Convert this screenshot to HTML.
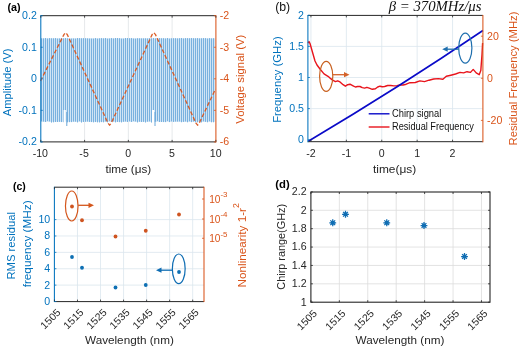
<!DOCTYPE html>
<html><head><meta charset="utf-8"><title>Figure</title>
<style>
html,body{margin:0;padding:0;background:#fff;}
body{width:520px;height:348px;overflow:hidden;}
svg{display:block;}
.s{font-family:"Liberation Sans",sans-serif;}
.sf{font-family:"Liberation Serif",serif;}
</style></head><body>
<svg width="520" height="348" viewBox="0 0 520 348">
<rect width="520" height="348" fill="#fff"/>
<line x1="84.58" y1="15.70" x2="84.58" y2="141.90" stroke="#dfe3e6" stroke-width="0.8"/>
<line x1="128.35" y1="15.70" x2="128.35" y2="141.90" stroke="#dfe3e6" stroke-width="0.8"/>
<line x1="172.12" y1="15.70" x2="172.12" y2="141.90" stroke="#dfe3e6" stroke-width="0.8"/>
<rect x="41.30" y="38.30" width="174.10" height="83.50" fill="#cfe4f5"/>
<path d="M41.50 38.33V121.38M43.50 38.36V121.59M45.50 38.04V122.00M47.50 38.50V121.02M49.50 38.14V121.41M51.50 38.28V122.59M53.50 38.29V122.34M55.50 38.09V122.02M57.50 38.52V122.02M59.50 38.44V121.84M61.50 38.04V122.07M63.50 38.35V122.21M65.50 38.02V121.48M67.50 38.28V122.38M69.50 38.53V122.15M71.50 38.55V122.14M73.50 38.48V121.63M75.50 38.56V121.71M77.50 38.06V122.41M79.50 38.13V121.22M81.50 38.26V122.54M83.50 38.18V122.00M85.50 38.23V121.81M87.50 38.35V121.56M89.50 38.54V121.93M91.50 38.56V122.09M93.50 38.59V122.37M95.50 38.10V122.07M97.50 38.58V122.38M99.50 38.34V122.45M101.50 38.13V122.14M103.50 38.34V122.33M105.50 38.04V121.46M107.50 38.59V122.37M109.50 38.48V121.14M111.50 38.09V121.66M113.50 38.46V121.47M115.50 38.03V122.40M117.50 38.03V121.98M119.50 38.20V122.15M121.50 38.59V122.41M123.50 38.60V121.81M125.50 38.05V121.50M127.50 38.02V121.96M129.50 38.24V121.32M131.50 38.09V121.98M133.50 38.52V121.07M135.50 38.58V121.50M137.50 38.23V122.43M139.50 38.31V121.74M141.50 38.36V122.03M143.50 38.37V121.89M145.50 38.30V122.50M147.50 38.43V121.69M149.50 38.18V121.38M151.50 38.31V122.56M153.50 38.01V121.88M155.50 38.35V121.66M157.50 38.37V121.03M159.50 38.04V122.01M161.50 38.28V122.00M163.50 38.21V122.09M165.50 38.44V122.13M167.50 38.04V121.04M169.50 38.58V122.08M171.50 38.27V121.40M173.50 38.19V121.95M175.50 38.19V121.58M177.50 38.36V121.59M179.50 38.23V121.48M181.50 38.02V122.24M183.50 38.44V121.91M185.50 38.13V121.50M187.50 38.14V122.29M189.50 38.26V121.30M191.50 38.06V122.12M193.50 38.20V121.52M195.50 38.26V122.33M197.50 38.10V122.37M199.50 38.39V121.54M201.50 38.27V122.42M203.50 38.07V121.36M205.50 38.11V121.85M207.50 38.50V122.29M209.50 38.17V121.29M211.50 38.39V122.29M213.50 38.21V122.29" stroke="#78b1df" stroke-width="1.0" fill="none"/>
<rect x="63.60" y="110" width="2.2" height="14" fill="#fff"/>
<line x1="66.80" y1="112.00" x2="66.80" y2="126.00" stroke="#69a6d8" stroke-width="1.0"/>
<rect x="152.00" y="110" width="2.2" height="14" fill="#fff"/>
<line x1="155.00" y1="112.00" x2="155.00" y2="126.00" stroke="#69a6d8" stroke-width="1.0"/>
<polyline points="40.5,81.0 63.9,34.6 65.6,32.6 67.3,34.6 108.0,123.2 109.6,125.2 111.2,123.2 152.1,34.6 153.8,32.6 155.5,34.6 196.0,123.2 197.6,125.2 199.2,123.2 215.5,89.0" fill="none" stroke="#D95319" stroke-width="1.35" stroke-dasharray="4.0 2.2" stroke-linejoin="round" opacity="0.92"/>
<line x1="40.80" y1="15.70" x2="215.90" y2="15.70" stroke="#262626" stroke-width="1"/>
<line x1="40.80" y1="141.90" x2="215.90" y2="141.90" stroke="#262626" stroke-width="1"/>
<line x1="40.80" y1="15.20" x2="40.80" y2="142.40" stroke="#0072BD" stroke-width="1.05"/>
<line x1="215.90" y1="15.20" x2="215.90" y2="142.40" stroke="#D95319" stroke-width="1.05"/>
<line x1="40.80" y1="141.90" x2="40.80" y2="139.90" stroke="#262626" stroke-width="0.8"/>
<line x1="40.80" y1="15.70" x2="40.80" y2="17.70" stroke="#262626" stroke-width="0.8"/>
<text class="s" x="0.00" y="0.00" font-size="10.2" text-anchor="middle" fill="#262626" transform="translate(40.30 156.60) scale(1.04 1)">-10</text>
<line x1="84.58" y1="141.90" x2="84.58" y2="139.90" stroke="#262626" stroke-width="0.8"/>
<line x1="84.58" y1="15.70" x2="84.58" y2="17.70" stroke="#262626" stroke-width="0.8"/>
<text class="s" x="0.00" y="0.00" font-size="10.2" text-anchor="middle" fill="#262626" transform="translate(84.08 156.60) scale(1.04 1)">-5</text>
<line x1="128.35" y1="141.90" x2="128.35" y2="139.90" stroke="#262626" stroke-width="0.8"/>
<line x1="128.35" y1="15.70" x2="128.35" y2="17.70" stroke="#262626" stroke-width="0.8"/>
<text class="s" x="0.00" y="0.00" font-size="10.2" text-anchor="middle" fill="#262626" transform="translate(128.15 156.60) scale(1.04 1)">0</text>
<line x1="172.12" y1="141.90" x2="172.12" y2="139.90" stroke="#262626" stroke-width="0.8"/>
<line x1="172.12" y1="15.70" x2="172.12" y2="17.70" stroke="#262626" stroke-width="0.8"/>
<text class="s" x="0.00" y="0.00" font-size="10.2" text-anchor="middle" fill="#262626" transform="translate(171.93 156.60) scale(1.04 1)">5</text>
<line x1="215.90" y1="141.90" x2="215.90" y2="139.90" stroke="#262626" stroke-width="0.8"/>
<line x1="215.90" y1="15.70" x2="215.90" y2="17.70" stroke="#262626" stroke-width="0.8"/>
<text class="s" x="0.00" y="0.00" font-size="10.2" text-anchor="middle" fill="#262626" transform="translate(215.70 156.60) scale(1.04 1)">10</text>
<line x1="40.80" y1="15.70" x2="42.80" y2="15.70" stroke="#0072BD" stroke-width="0.8"/>
<text class="s" x="0.00" y="0.00" font-size="10.2" text-anchor="end" fill="#0072BD" transform="translate(36.80 19.20) scale(1.04 1)">0.2</text>
<line x1="40.80" y1="47.25" x2="42.80" y2="47.25" stroke="#0072BD" stroke-width="0.8"/>
<text class="s" x="0.00" y="0.00" font-size="10.2" text-anchor="end" fill="#0072BD" transform="translate(36.80 50.75) scale(1.04 1)">0.1</text>
<line x1="40.80" y1="78.80" x2="42.80" y2="78.80" stroke="#0072BD" stroke-width="0.8"/>
<text class="s" x="0.00" y="0.00" font-size="10.2" text-anchor="end" fill="#0072BD" transform="translate(36.80 82.30) scale(1.04 1)">0</text>
<line x1="40.80" y1="110.35" x2="42.80" y2="110.35" stroke="#0072BD" stroke-width="0.8"/>
<text class="s" x="0.00" y="0.00" font-size="10.2" text-anchor="end" fill="#0072BD" transform="translate(36.80 113.85) scale(1.04 1)">-0.1</text>
<line x1="40.80" y1="141.90" x2="42.80" y2="141.90" stroke="#0072BD" stroke-width="0.8"/>
<text class="s" x="0.00" y="0.00" font-size="10.2" text-anchor="end" fill="#0072BD" transform="translate(36.80 145.40) scale(1.04 1)">-0.2</text>
<line x1="215.90" y1="15.70" x2="213.90" y2="15.70" stroke="#D95319" stroke-width="0.8"/>
<text class="s" x="0.00" y="0.00" font-size="10.2" text-anchor="start" fill="#D95319" transform="translate(219.80 19.20) scale(1.04 1)">-2</text>
<line x1="215.90" y1="47.25" x2="213.90" y2="47.25" stroke="#D95319" stroke-width="0.8"/>
<text class="s" x="0.00" y="0.00" font-size="10.2" text-anchor="start" fill="#D95319" transform="translate(219.80 50.75) scale(1.04 1)">-3</text>
<line x1="215.90" y1="78.80" x2="213.90" y2="78.80" stroke="#D95319" stroke-width="0.8"/>
<text class="s" x="0.00" y="0.00" font-size="10.2" text-anchor="start" fill="#D95319" transform="translate(219.80 82.30) scale(1.04 1)">-4</text>
<line x1="215.90" y1="110.35" x2="213.90" y2="110.35" stroke="#D95319" stroke-width="0.8"/>
<text class="s" x="0.00" y="0.00" font-size="10.2" text-anchor="start" fill="#D95319" transform="translate(219.80 113.85) scale(1.04 1)">-5</text>
<line x1="215.90" y1="141.90" x2="213.90" y2="141.90" stroke="#D95319" stroke-width="0.8"/>
<text class="s" x="0.00" y="0.00" font-size="10.2" text-anchor="start" fill="#D95319" transform="translate(219.80 145.40) scale(1.04 1)">-6</text>
<text class="s" x="128.30" y="172.50" font-size="11.4" text-anchor="middle" fill="#262626" textLength="45.8" lengthAdjust="spacingAndGlyphs">time (μs)</text>
<text class="s" x="10.70" y="82.40" font-size="11.4" text-anchor="middle" fill="#0072BD" textLength="67.5" lengthAdjust="spacingAndGlyphs" transform="rotate(-90 10.70 82.40)">Amplitude (V)</text>
<text class="s" x="243.70" y="79.20" font-size="11.4" text-anchor="middle" fill="#D95319" textLength="89.2" lengthAdjust="spacingAndGlyphs" transform="rotate(-90 243.70 79.20)">Voltage signal (V)</text>
<text class="s" x="7.40" y="10.80" font-size="11.5" text-anchor="start" fill="#000" font-weight="bold" textLength="13.2" lengthAdjust="spacingAndGlyphs">(a)</text>
<line x1="310.95" y1="15.40" x2="310.95" y2="141.70" stroke="#dbe6ee" stroke-width="0.8"/>
<line x1="346.35" y1="15.40" x2="346.35" y2="141.70" stroke="#dbe6ee" stroke-width="0.8"/>
<line x1="381.75" y1="15.40" x2="381.75" y2="141.70" stroke="#dbe6ee" stroke-width="0.8"/>
<line x1="417.15" y1="15.40" x2="417.15" y2="141.70" stroke="#dbe6ee" stroke-width="0.8"/>
<line x1="452.55" y1="15.40" x2="452.55" y2="141.70" stroke="#dbe6ee" stroke-width="0.8"/>
<line x1="307.90" y1="108.60" x2="482.90" y2="108.60" stroke="#dbe6ee" stroke-width="0.8"/>
<line x1="307.90" y1="77.50" x2="482.90" y2="77.50" stroke="#dbe6ee" stroke-width="0.8"/>
<line x1="307.90" y1="46.40" x2="482.90" y2="46.40" stroke="#dbe6ee" stroke-width="0.8"/>
<polyline points="308.0,43.1 309.0,41.5 310.0,43.5 311.0,47.0 313.0,54.0 315.0,61.0 317.0,65.0 320.0,69.0 324.0,73.9 328.0,76.3 330.0,78.1 333.1,80.4 335.4,81.6 337.7,80.8 340.0,81.9 343.1,84.7 345.4,86.2 347.7,84.7 350.0,84.2 353.1,85.8 355.4,87.0 357.7,86.5 360.0,86.5 362.3,87.6 364.6,88.1 366.9,87.3 369.2,88.1 372.3,89.3 375.4,88.8 377.7,87.0 380.0,86.2 382.3,86.8 384.6,86.5 387.7,85.5 390.8,85.5 393.8,85.9 396.9,85.8 400.0,85.0 403.1,85.0 406.2,84.2 410.0,82.7 415.3,82.5 419.9,80.9 424.5,81.6 429.0,80.2 433.7,79.0 438.3,78.6 442.9,79.3 446.3,76.3 450.9,75.2 455.5,74.0 460.0,72.4 463.6,72.9 467.0,71.7 470.5,72.4 473.2,69.4 476.2,72.9 479.2,74.7 480.8,70.6 482.0,54.5 482.6,43.0" fill="none" stroke="#e8141c" stroke-width="1.4" stroke-linejoin="round"/>
<path d="M308.3 141.2 Q 400 86.8 482.9 30.5" fill="none" stroke="#0a0ac8" stroke-width="1.6"/>
<line x1="307.90" y1="15.40" x2="482.90" y2="15.40" stroke="#262626" stroke-width="1"/>
<line x1="307.90" y1="141.70" x2="482.90" y2="141.70" stroke="#262626" stroke-width="1"/>
<line x1="307.90" y1="14.90" x2="307.90" y2="142.20" stroke="#0072BD" stroke-width="1.05"/>
<line x1="482.90" y1="14.90" x2="482.90" y2="142.20" stroke="#D95319" stroke-width="1.05"/>
<line x1="310.95" y1="141.70" x2="310.95" y2="139.70" stroke="#262626" stroke-width="0.8"/>
<line x1="310.95" y1="15.40" x2="310.95" y2="17.40" stroke="#262626" stroke-width="0.8"/>
<text class="s" x="0.00" y="0.00" font-size="10.2" text-anchor="middle" fill="#262626" transform="translate(310.95 157.10) scale(1.04 1)">-2</text>
<line x1="346.35" y1="141.70" x2="346.35" y2="139.70" stroke="#262626" stroke-width="0.8"/>
<line x1="346.35" y1="15.40" x2="346.35" y2="17.40" stroke="#262626" stroke-width="0.8"/>
<text class="s" x="0.00" y="0.00" font-size="10.2" text-anchor="middle" fill="#262626" transform="translate(346.35 157.10) scale(1.04 1)">-1</text>
<line x1="381.75" y1="141.70" x2="381.75" y2="139.70" stroke="#262626" stroke-width="0.8"/>
<line x1="381.75" y1="15.40" x2="381.75" y2="17.40" stroke="#262626" stroke-width="0.8"/>
<text class="s" x="0.00" y="0.00" font-size="10.2" text-anchor="middle" fill="#262626" transform="translate(381.75 157.10) scale(1.04 1)">0</text>
<line x1="417.15" y1="141.70" x2="417.15" y2="139.70" stroke="#262626" stroke-width="0.8"/>
<line x1="417.15" y1="15.40" x2="417.15" y2="17.40" stroke="#262626" stroke-width="0.8"/>
<text class="s" x="0.00" y="0.00" font-size="10.2" text-anchor="middle" fill="#262626" transform="translate(417.15 157.10) scale(1.04 1)">1</text>
<line x1="452.55" y1="141.70" x2="452.55" y2="139.70" stroke="#262626" stroke-width="0.8"/>
<line x1="452.55" y1="15.40" x2="452.55" y2="17.40" stroke="#262626" stroke-width="0.8"/>
<text class="s" x="0.00" y="0.00" font-size="10.2" text-anchor="middle" fill="#262626" transform="translate(452.55 157.10) scale(1.04 1)">2</text>
<line x1="307.90" y1="15.30" x2="309.90" y2="15.30" stroke="#0072BD" stroke-width="0.8"/>
<text class="s" x="0.00" y="0.00" font-size="10.2" text-anchor="end" fill="#0072BD" transform="translate(304.00 18.80) scale(1.04 1)">2</text>
<line x1="307.90" y1="46.40" x2="309.90" y2="46.40" stroke="#0072BD" stroke-width="0.8"/>
<text class="s" x="0.00" y="0.00" font-size="10.2" text-anchor="end" fill="#0072BD" transform="translate(304.00 49.90) scale(1.04 1)">1.5</text>
<line x1="307.90" y1="77.50" x2="309.90" y2="77.50" stroke="#0072BD" stroke-width="0.8"/>
<text class="s" x="0.00" y="0.00" font-size="10.2" text-anchor="end" fill="#0072BD" transform="translate(304.00 81.00) scale(1.04 1)">1</text>
<line x1="307.90" y1="108.60" x2="309.90" y2="108.60" stroke="#0072BD" stroke-width="0.8"/>
<text class="s" x="0.00" y="0.00" font-size="10.2" text-anchor="end" fill="#0072BD" transform="translate(304.00 112.10) scale(1.04 1)">0.5</text>
<line x1="307.90" y1="139.70" x2="309.90" y2="139.70" stroke="#0072BD" stroke-width="0.8"/>
<text class="s" x="0.00" y="0.00" font-size="10.2" text-anchor="end" fill="#0072BD" transform="translate(304.00 143.20) scale(1.04 1)">0</text>
<line x1="482.90" y1="36.20" x2="480.90" y2="36.20" stroke="#D95319" stroke-width="0.8"/>
<text class="s" x="0.00" y="0.00" font-size="10.2" text-anchor="start" fill="#D95319" transform="translate(487.00 39.70) scale(1.04 1)">20</text>
<line x1="482.90" y1="78.30" x2="480.90" y2="78.30" stroke="#D95319" stroke-width="0.8"/>
<text class="s" x="0.00" y="0.00" font-size="10.2" text-anchor="start" fill="#D95319" transform="translate(487.00 81.80) scale(1.04 1)">0</text>
<line x1="482.90" y1="120.40" x2="480.90" y2="120.40" stroke="#D95319" stroke-width="0.8"/>
<text class="s" x="0.00" y="0.00" font-size="10.2" text-anchor="start" fill="#D95319" transform="translate(487.00 123.90) scale(1.04 1)">-20</text>
<text class="s" x="394.60" y="172.80" font-size="11.4" text-anchor="middle" fill="#262626" textLength="43.2" lengthAdjust="spacingAndGlyphs">time(μs)</text>
<text class="s" x="280.60" y="79.60" font-size="11.4" text-anchor="middle" fill="#0072BD" textLength="86.5" lengthAdjust="spacingAndGlyphs" transform="rotate(-90 280.60 79.60)">Frequency (GHz)</text>
<text class="s" x="516.90" y="78.50" font-size="11.4" text-anchor="middle" fill="#D95319" textLength="134" lengthAdjust="spacingAndGlyphs" transform="rotate(-90 516.90 78.50)">Residual Frequency (MHz)</text>
<text class="s" x="275.20" y="11.20" font-size="12.3" text-anchor="start" fill="#111">(b)</text>
<text class="sf" x="388.70" y="10.90" font-size="14.3" text-anchor="start" fill="#111" font-style="italic" textLength="92.8" lengthAdjust="spacingAndGlyphs">β = 370MHz/μs</text>
<line x1="368.70" y1="113.80" x2="389.50" y2="113.80" stroke="#0a0ac8" stroke-width="1.4"/>
<line x1="368.70" y1="127.00" x2="389.50" y2="127.00" stroke="#e8141c" stroke-width="1.4"/>
<text class="s" x="392.00" y="116.60" font-size="10" text-anchor="start" fill="#111" textLength="49.3" lengthAdjust="spacingAndGlyphs">Chirp signal</text>
<text class="s" x="392.00" y="129.60" font-size="10" text-anchor="start" fill="#111" textLength="81.8" lengthAdjust="spacingAndGlyphs">Residual Frequency</text>
<ellipse cx="326.2" cy="76.3" rx="6.6" ry="15" fill="none" stroke="#c8601f" stroke-width="1.2"/>
<line x1="332.80" y1="74.70" x2="345.50" y2="74.70" stroke="#d4622a" stroke-width="1.3"/>
<polygon points="349.5,74.7 344.0,72.1 344.0,77.3" fill="#d4622a"/>
<ellipse cx="465.3" cy="48.1" rx="6.6" ry="15.0" fill="none" stroke="#1f6fae" stroke-width="1.2"/>
<line x1="458.60" y1="49.20" x2="446.20" y2="49.20" stroke="#1f6fae" stroke-width="1.3"/>
<polygon points="442.2,49.2 447.7,46.6 447.7,51.8" fill="#1f6fae"/>
<line x1="77.49" y1="187.20" x2="77.49" y2="301.60" stroke="#dbe6ee" stroke-width="0.8"/>
<line x1="100.53" y1="187.20" x2="100.53" y2="301.60" stroke="#dbe6ee" stroke-width="0.8"/>
<line x1="123.57" y1="187.20" x2="123.57" y2="301.60" stroke="#dbe6ee" stroke-width="0.8"/>
<line x1="146.61" y1="187.20" x2="146.61" y2="301.60" stroke="#dbe6ee" stroke-width="0.8"/>
<line x1="169.65" y1="187.20" x2="169.65" y2="301.60" stroke="#dbe6ee" stroke-width="0.8"/>
<line x1="192.69" y1="187.20" x2="192.69" y2="301.60" stroke="#dbe6ee" stroke-width="0.8"/>
<line x1="54.40" y1="285.12" x2="204.00" y2="285.12" stroke="#dbe6ee" stroke-width="0.8"/>
<line x1="54.40" y1="268.74" x2="204.00" y2="268.74" stroke="#dbe6ee" stroke-width="0.8"/>
<line x1="54.40" y1="252.36" x2="204.00" y2="252.36" stroke="#dbe6ee" stroke-width="0.8"/>
<line x1="54.40" y1="235.98" x2="204.00" y2="235.98" stroke="#dbe6ee" stroke-width="0.8"/>
<line x1="54.40" y1="219.60" x2="204.00" y2="219.60" stroke="#dbe6ee" stroke-width="0.8"/>
<line x1="54.40" y1="187.20" x2="204.00" y2="187.20" stroke="#262626" stroke-width="1"/>
<line x1="54.40" y1="301.60" x2="204.00" y2="301.60" stroke="#262626" stroke-width="1"/>
<line x1="54.40" y1="186.70" x2="54.40" y2="302.10" stroke="#0072BD" stroke-width="1.05"/>
<line x1="204.00" y1="186.70" x2="204.00" y2="302.10" stroke="#D95319" stroke-width="1.05"/>
<line x1="54.45" y1="301.60" x2="54.45" y2="299.60" stroke="#262626" stroke-width="0.8"/>
<line x1="54.45" y1="187.20" x2="54.45" y2="189.20" stroke="#262626" stroke-width="0.8"/>
<text class="s" x="0.00" y="0.00" font-size="10.2" text-anchor="end" fill="#262626" transform="translate(61.25 313.00) rotate(-45) scale(1.04 1)">1505</text>
<line x1="77.49" y1="301.60" x2="77.49" y2="299.60" stroke="#262626" stroke-width="0.8"/>
<line x1="77.49" y1="187.20" x2="77.49" y2="189.20" stroke="#262626" stroke-width="0.8"/>
<text class="s" x="0.00" y="0.00" font-size="10.2" text-anchor="end" fill="#262626" transform="translate(84.29 313.00) rotate(-45) scale(1.04 1)">1515</text>
<line x1="100.53" y1="301.60" x2="100.53" y2="299.60" stroke="#262626" stroke-width="0.8"/>
<line x1="100.53" y1="187.20" x2="100.53" y2="189.20" stroke="#262626" stroke-width="0.8"/>
<text class="s" x="0.00" y="0.00" font-size="10.2" text-anchor="end" fill="#262626" transform="translate(107.33 313.00) rotate(-45) scale(1.04 1)">1525</text>
<line x1="123.57" y1="301.60" x2="123.57" y2="299.60" stroke="#262626" stroke-width="0.8"/>
<line x1="123.57" y1="187.20" x2="123.57" y2="189.20" stroke="#262626" stroke-width="0.8"/>
<text class="s" x="0.00" y="0.00" font-size="10.2" text-anchor="end" fill="#262626" transform="translate(130.37 313.00) rotate(-45) scale(1.04 1)">1535</text>
<line x1="146.61" y1="301.60" x2="146.61" y2="299.60" stroke="#262626" stroke-width="0.8"/>
<line x1="146.61" y1="187.20" x2="146.61" y2="189.20" stroke="#262626" stroke-width="0.8"/>
<text class="s" x="0.00" y="0.00" font-size="10.2" text-anchor="end" fill="#262626" transform="translate(153.41 313.00) rotate(-45) scale(1.04 1)">1545</text>
<line x1="169.65" y1="301.60" x2="169.65" y2="299.60" stroke="#262626" stroke-width="0.8"/>
<line x1="169.65" y1="187.20" x2="169.65" y2="189.20" stroke="#262626" stroke-width="0.8"/>
<text class="s" x="0.00" y="0.00" font-size="10.2" text-anchor="end" fill="#262626" transform="translate(176.45 313.00) rotate(-45) scale(1.04 1)">1555</text>
<line x1="192.69" y1="301.60" x2="192.69" y2="299.60" stroke="#262626" stroke-width="0.8"/>
<line x1="192.69" y1="187.20" x2="192.69" y2="189.20" stroke="#262626" stroke-width="0.8"/>
<text class="s" x="0.00" y="0.00" font-size="10.2" text-anchor="end" fill="#262626" transform="translate(199.49 313.00) rotate(-45) scale(1.04 1)">1565</text>
<line x1="54.40" y1="301.50" x2="56.40" y2="301.50" stroke="#0072BD" stroke-width="0.8"/>
<text class="s" x="0.00" y="0.00" font-size="10.2" text-anchor="end" fill="#0072BD" transform="translate(50.20 304.90) scale(1.04 1)">0</text>
<line x1="54.40" y1="285.12" x2="56.40" y2="285.12" stroke="#0072BD" stroke-width="0.8"/>
<text class="s" x="0.00" y="0.00" font-size="10.2" text-anchor="end" fill="#0072BD" transform="translate(50.20 288.52) scale(1.04 1)">2</text>
<line x1="54.40" y1="268.74" x2="56.40" y2="268.74" stroke="#0072BD" stroke-width="0.8"/>
<text class="s" x="0.00" y="0.00" font-size="10.2" text-anchor="end" fill="#0072BD" transform="translate(50.20 272.14) scale(1.04 1)">4</text>
<line x1="54.40" y1="252.36" x2="56.40" y2="252.36" stroke="#0072BD" stroke-width="0.8"/>
<text class="s" x="0.00" y="0.00" font-size="10.2" text-anchor="end" fill="#0072BD" transform="translate(50.20 255.76) scale(1.04 1)">6</text>
<line x1="54.40" y1="235.98" x2="56.40" y2="235.98" stroke="#0072BD" stroke-width="0.8"/>
<text class="s" x="0.00" y="0.00" font-size="10.2" text-anchor="end" fill="#0072BD" transform="translate(50.20 239.38) scale(1.04 1)">8</text>
<line x1="54.40" y1="219.60" x2="56.40" y2="219.60" stroke="#0072BD" stroke-width="0.8"/>
<text class="s" x="0.00" y="0.00" font-size="10.2" text-anchor="end" fill="#0072BD" transform="translate(50.20 223.00) scale(1.04 1)">10</text>
<line x1="204.00" y1="199.00" x2="202.00" y2="199.00" stroke="#D95319" stroke-width="0.8"/>
<text class="s" x="209.2" y="202.60" font-size="10.2" fill="#D95319" textLength="18.3" lengthAdjust="spacingAndGlyphs">10<tspan dy="-5.3" font-size="8">-3</tspan></text>
<line x1="204.00" y1="219.00" x2="202.00" y2="219.00" stroke="#D95319" stroke-width="0.8"/>
<text class="s" x="209.2" y="222.60" font-size="10.2" fill="#D95319" textLength="18.3" lengthAdjust="spacingAndGlyphs">10<tspan dy="-5.3" font-size="8">-4</tspan></text>
<line x1="204.00" y1="238.25" x2="202.00" y2="238.25" stroke="#D95319" stroke-width="0.8"/>
<text class="s" x="209.2" y="241.85" font-size="10.2" fill="#D95319" textLength="18.3" lengthAdjust="spacingAndGlyphs">10<tspan dy="-5.3" font-size="8">-5</tspan></text>
<circle cx="72" cy="257" r="1.9" fill="#0d6fb3"/>
<circle cx="82" cy="267.75" r="1.9" fill="#0d6fb3"/>
<circle cx="115.5" cy="287.5" r="1.9" fill="#0d6fb3"/>
<circle cx="145.75" cy="285" r="1.9" fill="#0d6fb3"/>
<circle cx="179" cy="272" r="1.9" fill="#0d6fb3"/>
<circle cx="72" cy="206.5" r="1.9" fill="#cf5420"/>
<circle cx="82" cy="220.25" r="1.9" fill="#cf5420"/>
<circle cx="115.5" cy="236.5" r="1.9" fill="#cf5420"/>
<circle cx="145.75" cy="230.75" r="1.9" fill="#cf5420"/>
<circle cx="179" cy="214.5" r="1.9" fill="#cf5420"/>
<ellipse cx="71.75" cy="206" rx="6.3" ry="15" fill="none" stroke="#d4561c" stroke-width="1.2"/>
<line x1="78.20" y1="205.30" x2="90.00" y2="205.30" stroke="#d4561c" stroke-width="1.3"/>
<polygon points="94.0,205.3 88.5,202.7 88.5,207.9" fill="#d4561c"/>
<ellipse cx="178.75" cy="268.8" rx="6.4" ry="14.8" fill="none" stroke="#0f6db3" stroke-width="1.2"/>
<line x1="172.00" y1="270.20" x2="160.00" y2="270.20" stroke="#0f6db3" stroke-width="1.3"/>
<polygon points="156.0,270.2 161.5,267.6 161.5,272.8" fill="#0f6db3"/>
<text class="s" x="15.00" y="245.80" font-size="11.4" text-anchor="middle" fill="#0072BD" textLength="67.6" lengthAdjust="spacingAndGlyphs" transform="rotate(-90 15.00 245.80)">RMS residual</text>
<text class="s" x="30.70" y="243.90" font-size="11.4" text-anchor="middle" fill="#0072BD" textLength="86.9" lengthAdjust="spacingAndGlyphs" transform="rotate(-90 30.70 243.90)">frequency (MHz)</text>
<text class="s" x="245.8" y="245.3" font-size="11.4" fill="#D95319" text-anchor="middle" textLength="84.3" lengthAdjust="spacingAndGlyphs" transform="rotate(-90 245.8 245.3)">Nonlinearity 1-r<tspan dy="-6.5" font-size="8.5">2</tspan></text>
<text class="s" x="129.40" y="344.00" font-size="11.4" text-anchor="middle" fill="#262626" textLength="88.8" lengthAdjust="spacingAndGlyphs">Wavelength (nm)</text>
<text class="s" x="13.00" y="190.00" font-size="11.5" text-anchor="start" fill="#000" font-weight="bold" textLength="12.8" lengthAdjust="spacingAndGlyphs">(c)</text>
<line x1="339.33" y1="192.00" x2="339.33" y2="302.20" stroke="#dcdcdc" stroke-width="0.8"/>
<line x1="367.76" y1="192.00" x2="367.76" y2="302.20" stroke="#dcdcdc" stroke-width="0.8"/>
<line x1="396.19" y1="192.00" x2="396.19" y2="302.20" stroke="#dcdcdc" stroke-width="0.8"/>
<line x1="424.62" y1="192.00" x2="424.62" y2="302.20" stroke="#dcdcdc" stroke-width="0.8"/>
<line x1="453.05" y1="192.00" x2="453.05" y2="302.20" stroke="#dcdcdc" stroke-width="0.8"/>
<line x1="481.48" y1="192.00" x2="481.48" y2="302.20" stroke="#dcdcdc" stroke-width="0.8"/>
<line x1="310.90" y1="283.82" x2="490.00" y2="283.82" stroke="#dcdcdc" stroke-width="0.8"/>
<line x1="310.90" y1="265.44" x2="490.00" y2="265.44" stroke="#dcdcdc" stroke-width="0.8"/>
<line x1="310.90" y1="247.06" x2="490.00" y2="247.06" stroke="#dcdcdc" stroke-width="0.8"/>
<line x1="310.90" y1="228.68" x2="490.00" y2="228.68" stroke="#dcdcdc" stroke-width="0.8"/>
<line x1="310.90" y1="210.30" x2="490.00" y2="210.30" stroke="#dcdcdc" stroke-width="0.8"/>
<rect x="310.9" y="192" width="179.10000000000002" height="110.19999999999999" fill="none" stroke="#262626" stroke-width="1.1"/>
<line x1="310.90" y1="302.20" x2="310.90" y2="300.20" stroke="#262626" stroke-width="0.8"/>
<line x1="310.90" y1="192.00" x2="310.90" y2="194.00" stroke="#262626" stroke-width="0.8"/>
<text class="s" x="0.00" y="0.00" font-size="10.2" text-anchor="end" fill="#262626" transform="translate(317.70 314.00) rotate(-45) scale(1.04 1)">1505</text>
<line x1="339.33" y1="302.20" x2="339.33" y2="300.20" stroke="#262626" stroke-width="0.8"/>
<line x1="339.33" y1="192.00" x2="339.33" y2="194.00" stroke="#262626" stroke-width="0.8"/>
<text class="s" x="0.00" y="0.00" font-size="10.2" text-anchor="end" fill="#262626" transform="translate(346.13 314.00) rotate(-45) scale(1.04 1)">1515</text>
<line x1="367.76" y1="302.20" x2="367.76" y2="300.20" stroke="#262626" stroke-width="0.8"/>
<line x1="367.76" y1="192.00" x2="367.76" y2="194.00" stroke="#262626" stroke-width="0.8"/>
<text class="s" x="0.00" y="0.00" font-size="10.2" text-anchor="end" fill="#262626" transform="translate(374.56 314.00) rotate(-45) scale(1.04 1)">1525</text>
<line x1="396.19" y1="302.20" x2="396.19" y2="300.20" stroke="#262626" stroke-width="0.8"/>
<line x1="396.19" y1="192.00" x2="396.19" y2="194.00" stroke="#262626" stroke-width="0.8"/>
<text class="s" x="0.00" y="0.00" font-size="10.2" text-anchor="end" fill="#262626" transform="translate(402.99 314.00) rotate(-45) scale(1.04 1)">1535</text>
<line x1="424.62" y1="302.20" x2="424.62" y2="300.20" stroke="#262626" stroke-width="0.8"/>
<line x1="424.62" y1="192.00" x2="424.62" y2="194.00" stroke="#262626" stroke-width="0.8"/>
<text class="s" x="0.00" y="0.00" font-size="10.2" text-anchor="end" fill="#262626" transform="translate(431.42 314.00) rotate(-45) scale(1.04 1)">1545</text>
<line x1="453.05" y1="302.20" x2="453.05" y2="300.20" stroke="#262626" stroke-width="0.8"/>
<line x1="453.05" y1="192.00" x2="453.05" y2="194.00" stroke="#262626" stroke-width="0.8"/>
<text class="s" x="0.00" y="0.00" font-size="10.2" text-anchor="end" fill="#262626" transform="translate(459.85 314.00) rotate(-45) scale(1.04 1)">1555</text>
<line x1="481.48" y1="302.20" x2="481.48" y2="300.20" stroke="#262626" stroke-width="0.8"/>
<line x1="481.48" y1="192.00" x2="481.48" y2="194.00" stroke="#262626" stroke-width="0.8"/>
<text class="s" x="0.00" y="0.00" font-size="10.2" text-anchor="end" fill="#262626" transform="translate(488.28 314.00) rotate(-45) scale(1.04 1)">1565</text>
<line x1="310.90" y1="302.20" x2="312.90" y2="302.20" stroke="#262626" stroke-width="0.8"/>
<line x1="490.00" y1="302.20" x2="488.00" y2="302.20" stroke="#262626" stroke-width="0.8"/>
<text class="s" x="0.00" y="0.00" font-size="10.2" text-anchor="end" fill="#262626" transform="translate(306.60 305.60) scale(1.04 1)">1</text>
<line x1="310.90" y1="283.82" x2="312.90" y2="283.82" stroke="#262626" stroke-width="0.8"/>
<line x1="490.00" y1="283.82" x2="488.00" y2="283.82" stroke="#262626" stroke-width="0.8"/>
<text class="s" x="0.00" y="0.00" font-size="10.2" text-anchor="end" fill="#262626" transform="translate(306.60 287.22) scale(1.04 1)">1.2</text>
<line x1="310.90" y1="265.44" x2="312.90" y2="265.44" stroke="#262626" stroke-width="0.8"/>
<line x1="490.00" y1="265.44" x2="488.00" y2="265.44" stroke="#262626" stroke-width="0.8"/>
<text class="s" x="0.00" y="0.00" font-size="10.2" text-anchor="end" fill="#262626" transform="translate(306.60 268.84) scale(1.04 1)">1.4</text>
<line x1="310.90" y1="247.06" x2="312.90" y2="247.06" stroke="#262626" stroke-width="0.8"/>
<line x1="490.00" y1="247.06" x2="488.00" y2="247.06" stroke="#262626" stroke-width="0.8"/>
<text class="s" x="0.00" y="0.00" font-size="10.2" text-anchor="end" fill="#262626" transform="translate(306.60 250.46) scale(1.04 1)">1.6</text>
<line x1="310.90" y1="228.68" x2="312.90" y2="228.68" stroke="#262626" stroke-width="0.8"/>
<line x1="490.00" y1="228.68" x2="488.00" y2="228.68" stroke="#262626" stroke-width="0.8"/>
<text class="s" x="0.00" y="0.00" font-size="10.2" text-anchor="end" fill="#262626" transform="translate(306.60 232.08) scale(1.04 1)">1.8</text>
<line x1="310.90" y1="210.30" x2="312.90" y2="210.30" stroke="#262626" stroke-width="0.8"/>
<line x1="490.00" y1="210.30" x2="488.00" y2="210.30" stroke="#262626" stroke-width="0.8"/>
<text class="s" x="0.00" y="0.00" font-size="10.2" text-anchor="end" fill="#262626" transform="translate(306.60 213.70) scale(1.04 1)">2</text>
<line x1="310.90" y1="191.92" x2="312.90" y2="191.92" stroke="#262626" stroke-width="0.8"/>
<line x1="490.00" y1="191.92" x2="488.00" y2="191.92" stroke="#262626" stroke-width="0.8"/>
<text class="s" x="0.00" y="0.00" font-size="10.2" text-anchor="end" fill="#262626" transform="translate(306.60 195.32) scale(1.04 1)">2.2</text>
<path d="M329.35 222.75L336.15 222.75M330.35 220.35L335.15 225.15M332.75 219.35L332.75 226.15M335.15 220.35L330.35 225.15" stroke="#0f6db3" stroke-width="1.25" fill="none"/>
<circle cx="332.75" cy="222.75" r="2.0" fill="#0f6db3"/>
<path d="M342.10 214.25L348.90 214.25M343.10 211.85L347.90 216.65M345.50 210.85L345.50 217.65M347.90 211.85L343.10 216.65" stroke="#0f6db3" stroke-width="1.25" fill="none"/>
<circle cx="345.5" cy="214.25" r="2.0" fill="#0f6db3"/>
<path d="M383.35 222.75L390.15 222.75M384.35 220.35L389.15 225.15M386.75 219.35L386.75 226.15M389.15 220.35L384.35 225.15" stroke="#0f6db3" stroke-width="1.25" fill="none"/>
<circle cx="386.75" cy="222.75" r="2.0" fill="#0f6db3"/>
<path d="M420.60 225.50L427.40 225.50M421.60 223.10L426.40 227.90M424.00 222.10L424.00 228.90M426.40 223.10L421.60 227.90" stroke="#0f6db3" stroke-width="1.25" fill="none"/>
<circle cx="424" cy="225.5" r="2.0" fill="#0f6db3"/>
<path d="M461.10 256.50L467.90 256.50M462.10 254.10L466.90 258.90M464.50 253.10L464.50 259.90M466.90 254.10L462.10 258.90" stroke="#0f6db3" stroke-width="1.25" fill="none"/>
<circle cx="464.5" cy="256.5" r="2.0" fill="#0f6db3"/>
<text class="s" x="284.80" y="246.80" font-size="11.4" text-anchor="middle" fill="#262626" textLength="85.7" lengthAdjust="spacingAndGlyphs" transform="rotate(-90 284.80 246.80)">Chirp range(GHz)</text>
<text class="s" x="400.00" y="344.00" font-size="11.4" text-anchor="middle" fill="#262626" textLength="88.8" lengthAdjust="spacingAndGlyphs">Wavelength (nm)</text>
<text class="s" x="275.30" y="187.80" font-size="11.5" text-anchor="start" fill="#000" font-weight="bold" textLength="14.4" lengthAdjust="spacingAndGlyphs">(d)</text>
</svg>
</body></html>
